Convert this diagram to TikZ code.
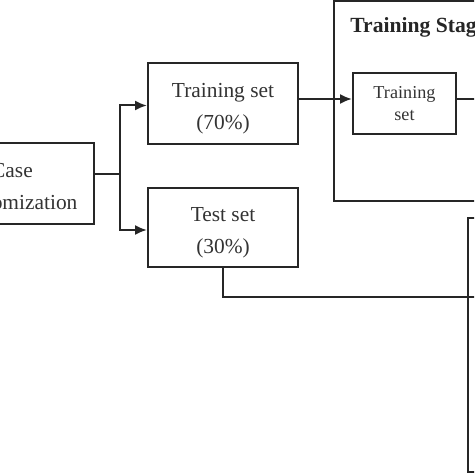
\documentclass[tikz,border=0pt]{standalone}
\usepackage{fontspec}
\setmainfont{Liberation Serif}
\usetikzlibrary{arrows.meta}
\begin{document}
\begin{tikzpicture}[x=0.5pt,y=-0.5pt,
 box/.style={draw=black!85, line width=1pt, rectangle, inner sep=0pt, align=center, text=black!80, font=\fontsize{10.7pt}{16pt}\selectfont},
 boxtext/.style={align=center, inner sep=0pt, text=black!80, font=\fontsize{10.7pt}{16pt}\selectfont, yshift=-2.5pt},
 smallbox/.style={box, font=\fontsize{9.1pt}{11pt}\selectfont},
 conn/.style={draw=black!85, line width=1pt},
 arr/.style={conn, -{Latex[length=6pt,width=5pt]}}]
\useasboundingbox (0,0) rectangle (474,474);
\clip (0,0) rectangle (474,474);
% boxes
\node[box, minimum width=83pt, minimum height=40.5pt] (case) at (11,183.5) {};
\node[boxtext, yshift=1pt, xshift=0.5pt] (casetext) at (case.center) {Case\\Randomization};
\node[box, minimum width=75pt, minimum height=40.5pt] (train) at (223,103.5) {};
\node[boxtext] (traintext) at (train.center) {Training set\\(70\%)};
\node[box, minimum width=75pt, minimum height=39.5pt] (test) at (223,227.5) {};
\node[boxtext] (testtext) at (test.center) {Test set\\(30\%)};
\node[box, minimum width=100pt, minimum height=100pt] (stage) at (434,101) {};
\node[anchor=base west, inner sep=0pt, text=black!85, font=\fontsize{10.8pt}{13pt}\selectfont\bfseries] (stagetitle) at (350,33) {Training Stage};
\node[smallbox, minimum width=51.5pt, minimum height=30.5pt] (strain) at (404.5,103.5) {Training\\set};
\node[box, minimum width=50pt, minimum height=127pt] (tall) at (518,345) {};
% connectors
\coordinate (split) at (120,174);
\coordinate (out1) at (500,99);
\coordinate (down) at (223,297);
\coordinate (out2) at (500,297);
\draw[conn] (case.east |- split) -- (split);
\draw[arr] (split) |- ([yshift=-1pt]train.west);
\draw[arr] (split) |- ([yshift=-1.25pt]test.west);
\draw[arr] ([yshift=2.25pt]train.east) -- ([yshift=2.25pt]strain.west);
\draw[conn] ([yshift=2.25pt]strain.east) -- (out1);
\draw[conn] (test.south -| down) -- (down) -- (out2);
\end{tikzpicture}
\end{document}
